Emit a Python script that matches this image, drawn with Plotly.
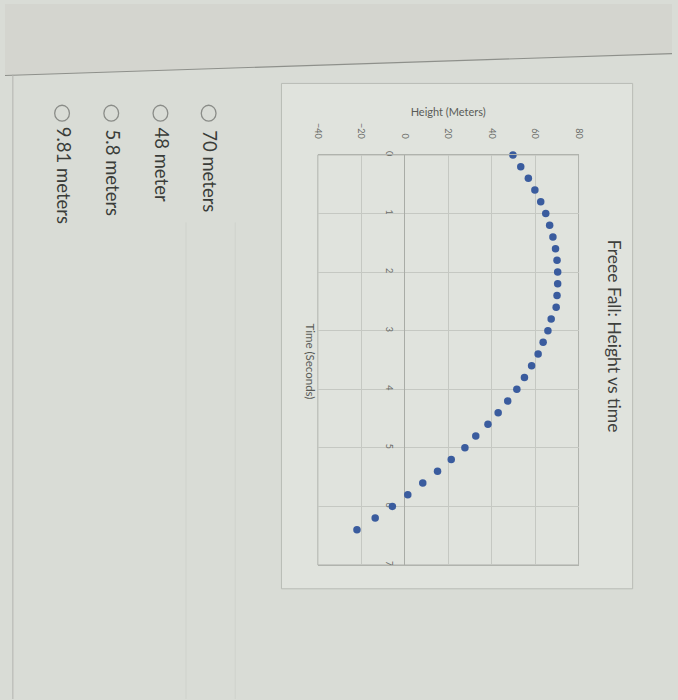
import plotly.graph_objects as go

W, H = 678, 700

# ---- data ----
time_s = [0.0, 0.2, 0.4, 0.6, 0.8, 1.0, 1.2, 1.4, 1.6, 1.8, 2.0, 2.2, 2.4, 2.6, 2.8,
          3.0, 3.2, 3.4, 3.6, 3.8, 4.0, 4.2, 4.4, 4.6, 4.8, 5.0, 5.2, 5.4, 5.6, 5.8,
          6.0, 6.2, 6.4]
height_m = [49.8, 53.4, 56.9, 59.9, 62.6, 64.9, 66.7, 68.2, 69.4, 70.1, 70.4, 70.4,
            70.1, 69.7, 67.4, 65.9, 63.7, 61.4, 58.4, 55.1, 51.6, 47.4, 43.0, 38.3,
            32.7, 27.7, 21.4, 15.1, 8.3, 1.4, -5.7, -13.6, -22.0]
height_ticks = [-40, -20, 0, 20, 40, 60, 80]
time_ticks = [0, 1, 2, 3, 4, 5, 6, 7]
options = ["70 meters", "48 meter", "5.8 meters", "9.81 meters"]

title_text = "Freee Fall: Height vs time"
x_title = "Height (Meters)"
t_title = "Time (Seconds)"


def px(x):
    return x / W


def py(y):
    return 1 - y / H


fig = go.Figure()
fig.add_trace(go.Scatter(
    x=height_m, y=time_s, mode="markers", cliponaxis=False,
    marker=dict(size=7.5, color="#3a5c9e", line=dict(width=0)),
    showlegend=False, hoverinfo="skip"))

grid_c = "#c5c8c2"
tick_font = dict(family="Lato, Open Sans, sans-serif", size=9, color="#6a6c68")

fig.update_layout(
    width=W, height=H,
    margin=dict(l=0, r=0, t=0, b=0),
    paper_bgcolor="#d9dcd6",
    plot_bgcolor="rgba(0,0,0,0)",
    xaxis=dict(
        domain=[px(318), px(583)], range=[-40, 80], side="top",
        tickvals=height_ticks, tickangle=90, tickfont=tick_font,
        ticks="outside", ticklen=12, tickcolor="rgba(0,0,0,0)",
        showgrid=True, gridcolor=grid_c, gridwidth=1,
        zeroline=True, zerolinecolor="#a9aca6", zerolinewidth=1,
        showline=True, linecolor="#b0b3ad", linewidth=1, mirror=True,
        title=dict(text=x_title, standoff=4,
                   font=dict(family="Lato, Open Sans, sans-serif", size=11, color="#5a5c58")),
    ),
    yaxis=dict(
        domain=[py(565), py(152)], range=[7, 0], anchor="free", position=px(406),
        side="left", tickvals=time_ticks, tickangle=90, tickfont=tick_font,
        ticks="outside", ticklen=8, tickcolor="rgba(0,0,0,0)",
        showgrid=True, gridcolor=grid_c, gridwidth=1,
        zeroline=False, showline=False, layer="below traces",
    ),
)

shapes = []
# top band (photo above the panel)
shapes.append(dict(type="path", xref="paper", yref="paper",
                   path=f"M 0 1 L 1 1 L 1 {py(50)} L 0 {py(72)} Z",
                   fillcolor="#d4d5cf", line=dict(width=0), layer="below"))
shapes.append(dict(type="line", xref="paper", yref="paper",
                   x0=0, y0=py(72), x1=1, y1=py(50),
                   line=dict(color="#8e908b", width=1.2), layer="below"))
shapes.append(dict(type="line", xref="paper", yref="paper",
                   x0=px(8), y0=py(71), x1=px(8), y1=0,
                   line=dict(color="#b3b5b0", width=1), layer="below"))
# faint vertical lines in the question panel
for xx in (184, 234):
    shapes.append(dict(type="line", xref="paper", yref="paper",
                       x0=px(xx), y0=py(220), x1=px(xx), y1=0,
                       line=dict(color="#cfd2cc", width=1), layer="below"))
# chart area box
shapes.append(dict(type="rect", xref="paper", yref="paper",
                   x0=px(281), y0=py(589), x1=px(638), y1=py(80),
                   fillcolor="#e0e3dd", line=dict(color="#b8bbb5", width=1), layer="below"))
# plot area border
shapes.append(dict(type="rect", xref="x domain", yref="y domain",
                   x0=0, y0=0, x1=1, y1=1,
                   line=dict(color="#b0b3ad", width=1), fillcolor="rgba(0,0,0,0)",
                   layer="below"))
# radio circles
for cx in (207, 158, 108, 58):
    shapes.append(dict(type="circle", xref="paper", yref="paper",
                       x0=px(cx - 7.5), x1=px(cx + 7.5), y0=py(110 + 8), y1=py(110 - 8),
                       line=dict(color="#8a8c88", width=1.3), fillcolor="rgba(0,0,0,0)",
                       layer="above"))
fig.update_layout(shapes=shapes)

ann = []
ann.append(dict(text=title_text, x=px(619), y=py(335), xref="paper", yref="paper",
                showarrow=False, textangle=90, xanchor="center", yanchor="middle",
                font=dict(family="Lato, Open Sans, sans-serif", size=17.5, color="#3e403c")))
ann.append(dict(text=t_title, x=px(311), y=py(360), xref="paper", yref="paper",
                showarrow=False, textangle=90, xanchor="center", yanchor="middle",
                font=dict(family="Lato, Open Sans, sans-serif", size=11.5, color="#5a5c58")))
for cx, cy, label in zip((209, 160, 110, 60), (168, 162, 170, 172), options):
    ann.append(dict(text=label, x=px(cx), y=py(cy), xref="paper", yref="paper",
                    showarrow=False, textangle=90, xanchor="center", yanchor="middle",
                    font=dict(family="Lato, Open Sans, sans-serif", size=18.5, color="#3a3c39")))
fig.update_layout(annotations=ann)

fig.write_html("out.html", config={"displayModeBar": False},
               post_script="document.body.style.margin='0';"
                           "document.body.style.background='#d9dcd6';")
